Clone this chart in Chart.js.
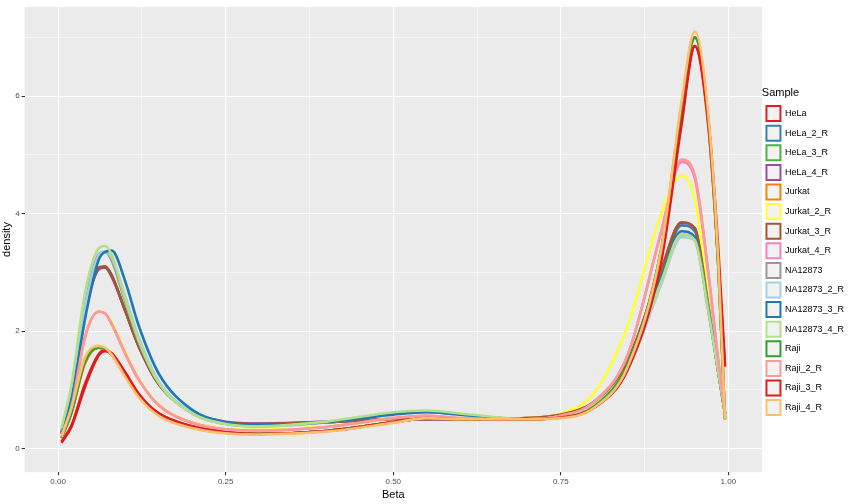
<!DOCTYPE html>
<html>
<head>
<meta charset="utf-8">
<script src="https://cdn.jsdelivr.net/npm/chart.js@4"></script>
<style>
  body { margin: 0; background: #fff; }
  #wrap { width: 864px; height: 504px; }
</style>
</head>
<body>
<div id="wrap"><canvas id="c"></canvas></div>
<script>
// density grid (Beta)
const beta = [0.005,0.02,0.04,0.06,0.07,0.08,0.1,0.12,0.15,0.2,0.25,0.3,0.4,0.5,0.55,0.6,0.7,0.75,0.8,0.85,0.9,0.93,0.95,0.97,0.985,0.995];

const samples = ['HeLa','HeLa_2_R','HeLa_3_R','HeLa_4_R','Jurkat','Jurkat_2_R','Jurkat_3_R','Jurkat_4_R',
  'NA12873','NA12873_2_R','NA12873_3_R','NA12873_4_R','Raji','Raji_2_R','Raji_3_R','Raji_4_R'];
const colors = ['#e41a1c','#377eb8','#4daf4a','#984ea3','#ff7f00','#ffff33','#a65628','#f781bf',
  '#999999','#a6cee3','#1f78b4','#b2df8a','#33a02c','#fb9a99','#e31a1c','#fdbf6f'];

const hela      = [0.12,0.40,1.10,1.60,1.68,1.62,1.28,0.92,0.60,0.38,0.28,0.25,0.30,0.45,0.52,0.50,0.50,0.53,0.70,1.40,3.30,5.60,6.85,5.50,3.20,1.40];
const hela2     = [0.28,0.90,2.30,3.05,3.10,2.95,2.35,1.75,1.10,0.62,0.45,0.42,0.45,0.50,0.50,0.50,0.52,0.58,0.80,1.50,3.00,3.80,3.70,2.40,1.30,0.60];
const hela3     = [0.20,0.62,1.50,1.72,1.70,1.60,1.25,0.90,0.58,0.36,0.27,0.25,0.30,0.45,0.52,0.50,0.50,0.53,0.72,1.45,3.40,5.80,7.00,5.60,3.10,0.50];
const hela4     = [0.26,0.88,2.30,3.05,3.08,2.92,2.35,1.75,1.10,0.62,0.46,0.43,0.46,0.50,0.50,0.50,0.52,0.58,0.80,1.50,3.05,3.85,3.75,2.45,1.30,0.62];
const jurkat    = [0.18,0.62,1.45,1.72,1.70,1.60,1.25,0.90,0.58,0.36,0.27,0.25,0.30,0.45,0.52,0.50,0.50,0.53,0.72,1.45,3.40,5.80,7.00,5.60,3.10,0.50];
const jurkat2   = [0.20,0.72,1.90,2.33,2.30,2.15,1.65,1.20,0.75,0.45,0.34,0.32,0.38,0.50,0.53,0.50,0.52,0.60,0.95,2.10,4.00,4.65,4.25,2.60,1.30,0.55];
const jurkat3   = [0.26,0.88,2.30,3.08,3.10,2.95,2.35,1.75,1.10,0.62,0.45,0.42,0.45,0.50,0.50,0.50,0.52,0.58,0.80,1.50,3.05,3.85,3.75,2.45,1.30,0.60];
const jurkat4   = [0.20,0.72,1.90,2.33,2.30,2.12,1.62,1.18,0.74,0.44,0.33,0.31,0.37,0.52,0.56,0.52,0.50,0.56,0.80,1.60,3.70,4.88,4.60,3.00,1.50,0.60];
const na        = [0.30,1.00,2.45,3.30,3.35,3.20,2.50,1.82,1.12,0.60,0.42,0.38,0.45,0.60,0.63,0.58,0.50,0.55,0.75,1.40,2.85,3.65,3.55,2.35,1.30,0.60];
const na2       = [0.30,1.00,2.40,3.28,3.35,3.25,2.60,1.90,1.15,0.62,0.43,0.38,0.45,0.60,0.63,0.58,0.50,0.55,0.75,1.35,2.80,3.60,3.55,2.40,1.35,0.65];
const na3       = [0.25,0.85,2.20,3.20,3.35,3.37,2.85,2.10,1.28,0.66,0.45,0.40,0.45,0.58,0.62,0.58,0.50,0.55,0.75,1.40,2.90,3.70,3.60,2.40,1.30,0.60];
const na4       = [0.35,1.10,2.65,3.40,3.45,3.30,2.55,1.85,1.12,0.60,0.42,0.38,0.46,0.62,0.65,0.60,0.50,0.55,0.75,1.40,2.85,3.65,3.55,2.35,1.30,0.62];
const raji      = [0.18,0.62,1.48,1.72,1.70,1.60,1.25,0.90,0.58,0.36,0.27,0.25,0.30,0.45,0.52,0.50,0.50,0.53,0.72,1.45,3.40,5.80,7.00,5.60,3.10,0.50];
const raji2     = [0.20,0.72,1.90,2.33,2.30,2.12,1.62,1.18,0.74,0.44,0.33,0.31,0.37,0.52,0.56,0.52,0.50,0.56,0.80,1.60,3.70,4.92,4.65,3.00,1.50,0.60];
const raji3     = [0.10,0.38,1.05,1.58,1.66,1.62,1.30,0.94,0.60,0.38,0.28,0.25,0.30,0.45,0.52,0.50,0.50,0.53,0.70,1.35,3.20,5.50,6.85,5.60,3.40,1.40];
const raji4     = [0.22,0.70,1.55,1.75,1.72,1.60,1.22,0.88,0.56,0.35,0.26,0.24,0.29,0.44,0.52,0.50,0.50,0.52,0.70,1.40,3.40,5.90,7.10,5.70,3.20,0.50];
const seriesValues = [hela,hela2,hela3,hela4,jurkat,jurkat2,jurkat3,jurkat4,na,na2,na3,na4,raji,raji2,raji3,raji4];

const xTicks = [0, 0.25, 0.5, 0.75, 1];
const yTicks = [0, 2, 4, 6];

const panelBg = {
  id: 'panelBg',
  beforeDraw(chart) {
    const a = chart.chartArea, ctx = chart.ctx;
    ctx.save(); ctx.fillStyle = '#ebebeb';
    ctx.fillRect(a.left, a.top, a.right - a.left, a.bottom - a.top);
    ctx.restore();
  }
};

const datasets = samples.map((s, i) => ({
  label: s,
  data: beta.map((b, j) => ({x: b, y: seriesValues[i][j]})),
  borderColor: colors[i],
  backgroundColor: colors[i],
  borderWidth: 2.6,
  pointRadius: 0,
  fill: false,
  cubicInterpolationMode: 'monotone',
  order: samples.length - i
}));

const isMajor = (v, list) => list.some(t => Math.abs(t - v) < 1e-6);

new Chart(document.getElementById('c'), {
  type: 'line',
  data: {datasets: datasets},
  plugins: [panelBg],
  options: {
    responsive: true,
    maintainAspectRatio: false,
    animation: false,
    layout: {padding: {left: 0, top: 5, right: 10, bottom: 2}},
    plugins: {
      tooltip: {enabled: false},
      legend: {
        position: 'right',
        align: 'center',
        title: {display: true, text: 'Sample', position: 'start', color: '#000', font: {family: 'Liberation Sans', size: 11}, padding: {top: 0, bottom: 1}},
        labels: {
          sort: (a, b) => a.datasetIndex - b.datasetIndex,
          boxWidth: 14, boxHeight: 15, padding: 4.6,
          color: '#000', font: {family: 'Liberation Sans', size: 9},
          generateLabels: chart => chart.data.datasets.map((d, i) => ({
            text: d.label, fillStyle: '#f2f2f2', strokeStyle: d.borderColor,
            lineWidth: 2, datasetIndex: i, hidden: false
          }))
        }
      }
    },
    scales: {
      x: {
        type: 'linear', min: -0.05, max: 1.05,
        title: {display: true, text: 'Beta', color: '#000', font: {family: 'Liberation Sans', size: 11}, padding: {top: 0, bottom: 0}},
        afterBuildTicks: ax => { ax.ticks = [0,0.125,0.25,0.375,0.5,0.625,0.75,0.875,1].map(v => ({value: v})); },
        ticks: {
          color: '#4d4d4d', font: {family: 'Liberation Sans', size: 8}, maxRotation: 0, padding: 2,
          callback: v => isMajor(v, xTicks) ? v.toFixed(2) : ''
        },
        grid: {
          color: '#fff',
          lineWidth: c => isMajor(c.tick.value, xTicks) ? 1.1 : 0.5,
          tickColor: c => isMajor(c.tick.value, xTicks) ? '#333' : 'rgba(0,0,0,0)', tickLength: 3
        },
        border: {display: false}
      },
      y: {
        min: -0.4, max: 7.52,
        title: {display: true, text: 'density', color: '#000', font: {family: 'Liberation Sans', size: 11}, padding: {top: 0, bottom: 0}},
        afterBuildTicks: ax => { ax.ticks = [0,1,2,3,4,5,6,7].map(v => ({value: v})); },
        ticks: {
          color: '#4d4d4d', font: {family: 'Liberation Sans', size: 8}, padding: 2,
          callback: v => isMajor(v, yTicks) ? String(v) : ''
        },
        grid: {
          color: '#fff',
          lineWidth: c => isMajor(c.tick.value, yTicks) ? 1.1 : 0.5,
          tickColor: c => isMajor(c.tick.value, yTicks) ? '#333' : 'rgba(0,0,0,0)', tickLength: 3
        },
        border: {display: false}
      }
    }
  }
});
</script>
</body>
</html>
